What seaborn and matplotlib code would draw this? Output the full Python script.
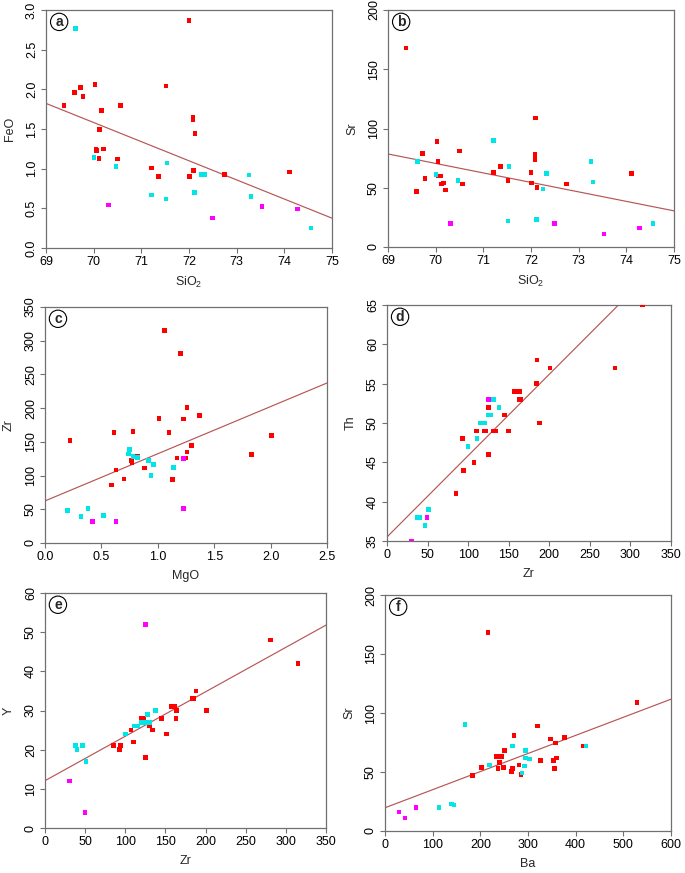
import numpy as np
import pandas as pd
import seaborn as sns
import matplotlib.pyplot as plt

# colours of the three sample groups
RED = "#ff0000"
CYAN = "#00e5e5"
MAG = "#ff00ff"
LINE = "#b85555"

# panels a, b: SiO2 shared by FeO and Sr
sio2_red = [69.38, 69.60, 69.73, 69.78, 70.03, 70.05, 70.06, 70.11, 70.12, 70.16, 70.20, 70.50,
            70.56, 71.21, 71.36, 71.52, 72.00, 72.01, 72.08, 72.08, 72.10, 72.13, 72.75, 74.11]
feo_red = [1.80, 1.96, 2.02, 1.91, 2.06, 1.25, 1.23, 1.13, 1.49, 1.73, 1.25, 1.12,
           1.80, 1.01, 0.90, 2.04, 2.87, 0.90, 1.65, 1.62, 0.98, 1.44, 0.93, 0.96]
sr_red = [168, 47, 79, 58, 89, 72, 60, 60, 53, 54, 48, 81,
          53, 63, 68, 56, 63, 54, 78, 74, 109, 50, 53, 62]

sio2_cyan = [69.62, 70.01, 70.47, 71.21, 71.52, 71.54, 72.12, 72.25, 72.32, 73.26, 73.30, 74.56]
feo_cyan = [2.77, 1.14, 1.03, 0.67, 0.62, 1.07, 0.70, 0.93, 0.93, 0.92, 0.65, 0.25]
sr_cyan = [72, 61, 56, 90, 22, 68, 23, 49, 62, 72, 55, 20]

sio2_mag = [70.31, 72.49, 73.53, 74.28]
feo_mag = [0.54, 0.38, 0.52, 0.49]
sr_mag = [20, 20, 11, 16]

# panel c: Zr vs MgO
mgo_red = [0.22, 0.59, 0.61, 0.63, 0.70, 0.767, 0.772, 0.78, 0.82, 0.88, 1.01, 1.06,
           1.10, 1.13, 1.17, 1.20, 1.23, 1.25, 1.26, 1.26, 1.30, 1.37, 1.83, 2.01]
zr_c_red = [152, 86, 164, 108, 95, 122, 119, 165, 128, 111, 185, 315,
            164, 94, 126, 281, 184, 126, 201, 135, 145, 189, 131, 159]
mgo_cyan = [0.20, 0.32, 0.38, 0.52, 0.74, 0.75, 0.78, 0.82, 0.92, 0.96, 0.94, 1.14]
zr_c_cyan = [48, 39, 51, 41, 132, 139, 128, 127, 122, 116, 100, 112]
mgo_mag = [0.42, 0.63, 1.23, 1.23]
zr_c_mag = [31.6, 31.6, 125.6, 50.9]

# panel d: Th vs Zr
zr_d_red = [85, 93, 94, 107, 110, 120, 122, 125, 125, 131, 134, 145,
            150, 157, 160, 163, 163, 165, 184, 185, 188, 201, 281, 315]
th_red = [41, 48, 44, 45, 49, 49, 49, 52, 46, 49, 49, 51,
          49, 54, 54, 54, 53, 53, 55, 58, 50, 57, 57, 65]
zr_d_cyan = [37, 40, 47, 51, 100, 111, 115, 121, 125, 128, 131, 138]
th_cyan = [38, 38, 37, 39, 47, 48, 50, 50, 51, 51, 53, 52]
zr_d_mag = [30.5, 31, 49.5, 125]
th_mag = [35, 35, 38, 53]

# panel e: Y vs Zr
zr_e_red = [85, 93, 94, 107, 110, 120, 123, 125, 125, 130, 134, 145,
            151, 157, 160, 162, 163, 164, 184, 185, 188, 201, 281, 315]
y_red = [21, 20, 21, 25, 22, 28, 28, 18, 27, 26, 25, 28,
         24, 31, 31, 31, 28, 30, 33, 33, 35, 30, 48, 42]
zr_e_cyan = [38, 40, 47, 51, 100, 111, 115, 120, 125, 128, 131, 138]
y_cyan = [21, 20, 21, 17, 24, 26, 26, 27, 27, 29, 27, 30]
zr_e_mag = [30.7, 31, 50, 125]
y_mag = [12, 12, 4, 52]

# panel f: Sr vs Ba
ba_red = [184, 203, 216, 234, 237, 240, 245, 249, 251, 265, 268, 271,
          281, 285, 320, 326, 347, 353, 355, 358, 360, 376, 416, 529]
sr_f_red = [47, 54, 168, 63, 53, 58, 63, 54, 68, 50.5, 53, 81,
            56, 48, 89, 60, 78, 60, 53, 74.5, 62, 79, 72, 109]
ba_cyan = [113, 140, 145, 168, 219, 268, 287, 293, 295, 295, 303, 422]
sr_f_cyan = [20, 23, 22, 90, 56, 72, 49, 55, 68, 62, 61, 72]
ba_mag = [29, 42, 65, 65]
sr_f_mag = [16, 11, 20, 20]


def frame(x, y, group):
    return pd.DataFrame({"x": x, "y": y, "g": group})


panels = [
    ("a", (sio2_red, feo_red), (sio2_cyan, feo_cyan), (sio2_mag, feo_mag),
     r"SiO$_\mathregular{2}$", "FeO", (69, 75), (0, 3.0), np.arange(69, 76, 1), np.arange(0, 3.01, 0.5), "%.1f"),
    ("b", (sio2_red, sr_red), (sio2_cyan, sr_cyan), (sio2_mag, sr_mag),
     r"SiO$_\mathregular{2}$", "Sr", (69, 75), (0, 200), np.arange(69, 76, 1), np.arange(0, 201, 50), "%d"),
    ("c", (mgo_red, zr_c_red), (mgo_cyan, zr_c_cyan), (mgo_mag, zr_c_mag),
     "MgO", "Zr", (0, 2.5), (0, 350), np.arange(0, 2.51, 0.5), np.arange(0, 351, 50), "%d"),
    ("d", (zr_d_red, th_red), (zr_d_cyan, th_cyan), (zr_d_mag, th_mag),
     "Zr", "Th", (0, 350), (35, 65), np.arange(0, 351, 50), np.arange(35, 66, 5), "%d"),
    ("e", (zr_e_red, y_red), (zr_e_cyan, y_cyan), (zr_e_mag, y_mag),
     "Zr", "Y", (0, 350), (0, 60), np.arange(0, 351, 50), np.arange(0, 61, 10), "%d"),
    ("f", (ba_red, sr_f_red), (ba_cyan, sr_f_cyan), (ba_mag, sr_f_mag),
     "Ba", "Sr", (0, 600), (0, 200), np.arange(0, 601, 100), np.arange(0, 201, 50), "%d"),
]

sns.set_style("ticks")
plt.rcParams["font.family"] = ["Liberation Sans", "DejaVu Sans"]
plt.rcParams["font.size"] = 8.5

fig = plt.figure(figsize=(6.85, 8.73), dpi=100)

W, H = 685, 873
# axes boxes in pixels: left, top, right, bottom
boxes = [(46, 10, 332, 248), (388, 10, 674, 247),
         (45, 307, 327, 543), (387, 305, 671, 541),
         (45, 593, 326, 828), (385, 595, 671, 831)]

for (tag, red, cyan, mag, xl, yl, xlim, ylim, xt, yt, yfmt), (l, t, r, b) in zip(panels, boxes):
    ax = fig.add_axes([l / W, 1 - b / H, (r - l) / W, (b - t) / H])
    df = pd.concat([frame(*red, "red"), frame(*cyan, "cyan"), frame(*mag, "mag")])

    ax.set_xlim(*xlim)
    ax.set_ylim(*ylim)
    # regression over all samples, stretched across the whole x range
    sns.regplot(data=df, x="x", y="y", ax=ax, scatter=False, ci=None, truncate=False,
                line_kws={"color": LINE, "lw": 0.85})
    sns.scatterplot(data=df, x="x", y="y", hue="g", palette={"red": RED, "cyan": CYAN, "mag": MAG},
                    marker="s", s=11, linewidth=0, legend=False, ax=ax, zorder=3)

    ax.set_xlim(*xlim)
    ax.set_ylim(*ylim)
    ax.set_xticks(xt)
    ax.set_yticks(yt)
    ax.set_xticklabels([("%.1f" % v) if tag == "c" else "%d" % v for v in xt])
    ax.set_yticklabels([yfmt % v for v in yt])
    ax.tick_params(direction="out", length=3.3, width=0.8, color="#707070",
                   labelcolor="black", labelsize=9, pad=2.5)
    ax.tick_params(axis="y", labelrotation=90)
    for lab in ax.get_yticklabels():
        lab.set_va("center")
    for sp in ax.spines.values():
        sp.set_color("#707070")
        sp.set_linewidth(0.9)

    ax.set_xlabel(xl, fontsize=9)
    ax.set_ylabel(yl, fontsize=9)
    ax.xaxis.set_label_coords(0.5, -27 / (b - t))
    ax.yaxis.set_label_coords(-30 / (r - l), 0.5)

    ax.text(0.046, 0.95, tag, transform=ax.transAxes, fontsize=10, fontweight="bold",
            ha="center", va="center",
            bbox=dict(boxstyle="circle,pad=0.12", fc="white", ec="black", lw=0.8))

fig.savefig("out.png", dpi=100)
